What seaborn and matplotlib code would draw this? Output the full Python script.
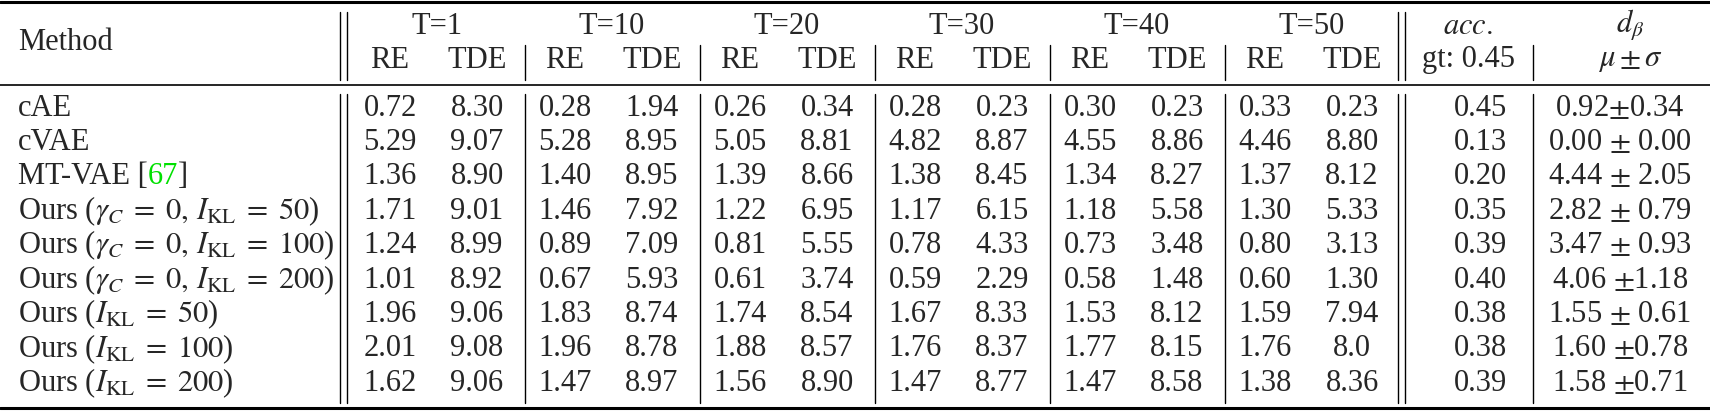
import matplotlib
matplotlib.use("Agg")
import matplotlib.pyplot as plt
import seaborn as sns

sns.set_theme(style="white")
plt.rcParams['font.family'] = ['Liberation Serif', 'DejaVu Serif']
plt.rcParams['mathtext.fontset'] = 'stix'

methods = ["cAE", "cVAE", "MT-VAE [67]",
           r"Ours ($\gamma_C\;=\;0,\, I_{\mathrm{KL}}\;=\;50$)",
           r"Ours ($\gamma_C\;=\;0,\, I_{\mathrm{KL}}\;=\;100$)",
           r"Ours ($\gamma_C\;=\;0,\, I_{\mathrm{KL}}\;=\;200$)",
           r"Ours ($I_{\mathrm{KL}}\;=\;50$)",
           r"Ours ($I_{\mathrm{KL}}\;=\;100$)",
           r"Ours ($I_{\mathrm{KL}}\;=\;200$)"]
horizons = ["T=1", "T=10", "T=20", "T=30", "T=40", "T=50"]
re_vals = [
    ["0.72", "0.28", "0.26", "0.28", "0.30", "0.33"],
    ["5.29", "5.28", "5.05", "4.82", "4.55", "4.46"],
    ["1.36", "1.40", "1.39", "1.38", "1.34", "1.37"],
    ["1.71", "1.46", "1.22", "1.17", "1.18", "1.30"],
    ["1.24", "0.89", "0.81", "0.78", "0.73", "0.80"],
    ["1.01", "0.67", "0.61", "0.59", "0.58", "0.60"],
    ["1.96", "1.83", "1.74", "1.67", "1.53", "1.59"],
    ["2.01", "1.96", "1.88", "1.76", "1.77", "1.76"],
    ["1.62", "1.47", "1.56", "1.47", "1.47", "1.38"],
]
tde_vals = [
    ["8.30", "1.94", "0.34", "0.23", "0.23", "0.23"],
    ["9.07", "8.95", "8.81", "8.87", "8.86", "8.80"],
    ["8.90", "8.95", "8.66", "8.45", "8.27", "8.12"],
    ["9.01", "7.92", "6.95", "6.15", "5.58", "5.33"],
    ["8.99", "7.09", "5.55", "4.33", "3.48", "3.13"],
    ["8.92", "5.93", "3.74", "2.29", "1.48", "1.30"],
    ["9.06", "8.74", "8.54", "8.33", "8.12", "7.94"],
    ["9.08", "8.78", "8.57", "8.37", "8.15", "8.0"],
    ["9.06", "8.97", "8.90", "8.77", "8.58", "8.36"],
]
acc_vals = ["0.45", "0.13", "0.20", "0.35", "0.39", "0.40", "0.38", "0.38", "0.39"]
dbeta_vals = [r"0.92$\pm$0.34", r"0.00 $\pm$ 0.00", r"4.44 $\pm$ 2.05",
              r"2.82 $\pm$ 0.79", r"3.47 $\pm$ 0.93", r"4.06 $\pm$1.18",
              r"1.55 $\pm$ 0.61", r"1.60 $\pm$0.78", r"1.58 $\pm$0.71"]

W, H = 1710, 411
fig = plt.figure(figsize=(W / 100, H / 100), dpi=100)
ax = fig.add_axes([0, 0, 1, 1])
ax.set_xlim(0, W)
ax.set_ylim(H, 0)
ax.axis("off")

fs = 22
ax.plot([0, W], [2, 2], color="black", lw=2.2)
ax.plot([0, W], [85, 85], color="black", lw=1.2)
ax.plot([0, W], [408, 408], color="black", lw=2.2)

group_left = [350 + 175 * i for i in range(6)]
dbl = [(340, 347), (1398, 1405)]
for a, b in dbl:
    for x in (a, b):
        ax.plot([x, x], [12, 80], color="black", lw=1.0)
        ax.plot([x, x], [94, 403], color="black", lw=1.0)
for x in group_left[1:] + [1533]:
    ax.plot([x, x], [45, 80], color="black", lw=1.0)
    ax.plot([x, x], [94, 403], color="black", lw=1.0)

ax.text(18, 43, "Method", fontsize=fs, ha="left", va="center")
for i, h in enumerate(horizons):
    gl = group_left[i]
    ax.text(gl + 87, 27, h, fontsize=fs, ha="center", va="center")
    ax.text(gl + 40, 60, "RE", fontsize=fs, ha="center", va="center")
    ax.text(gl + 127, 60, "TDE", fontsize=fs, ha="center", va="center")
ax.text(1468, 27, r"$acc.$", fontsize=fs, ha="center", va="center")
ax.text(1468, 60, "gt: 0.45", fontsize=fs, ha="center", va="center")
ax.text(1630, 25, r"$d_\beta$", fontsize=fs, ha="center", va="center")
ax.text(1630, 60, r"$\mu \pm \sigma$", fontsize=fs, ha="center", va="center")

fig.canvas.draw()
renderer = fig.canvas.get_renderer()
row0, dy = 108, 34.4
for r, m in enumerate(methods):
    y = row0 + r * dy
    if "[67]" in m:
        t1 = ax.text(18, y, "MT-VAE [", fontsize=fs, ha="left", va="center")
        bb = t1.get_window_extent(renderer)
        t2 = ax.text(bb.x1, y, "67", fontsize=fs, ha="left", va="center", color="#00e000")
        bb2 = t2.get_window_extent(renderer)
        ax.text(bb2.x1, y, "]", fontsize=fs, ha="left", va="center")
    else:
        ax.text(18, y, m, fontsize=fs, ha="left", va="center")
    for i in range(6):
        gl = group_left[i]
        ax.text(gl + 40, y, re_vals[r][i], fontsize=fs, ha="center", va="center")
        ax.text(gl + 127, y, tde_vals[r][i], fontsize=fs, ha="center", va="center")
    ax.text(1480, y, acc_vals[r], fontsize=fs, ha="center", va="center")
    ax.text(1620, y, dbeta_vals[r], fontsize=fs, ha="center", va="center")

fig.savefig("out.png", dpi=100)
